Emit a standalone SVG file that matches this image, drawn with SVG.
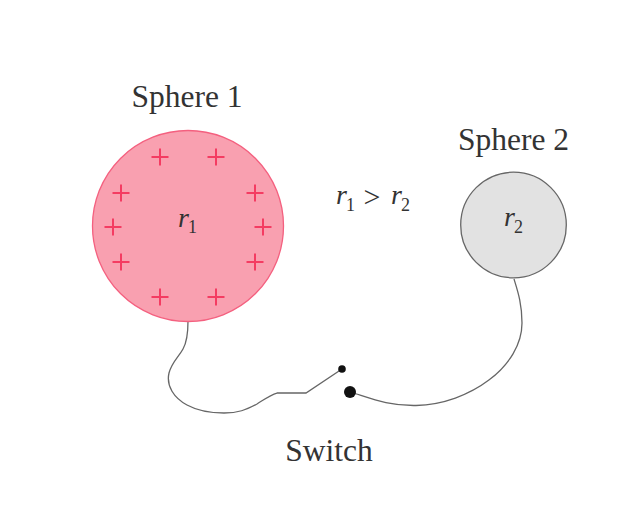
<svg xmlns="http://www.w3.org/2000/svg" width="638" height="528" viewBox="0 0 638 528">
<style>
text{font-family:"Liberation Serif","Times New Roman",serif;fill:#333}
.l{font-size:31.500px}
.i{font-size:28px;font-style:italic}
.o{font-size:30px}
.s{font-size:18px}
.p{stroke:#f43c62;stroke-width:2;fill:none}
.w{fill:none;stroke:#666;stroke-width:1.300}
</style>
<defs><path id="plus" class="p" d="M-8.500 0H8.500M0-8.500V8.500"/></defs>
<rect width="638" height="528" fill="#fff"/>
<g id="connectors">
<path class="w" d="M188 321C188 332 187 342 183 349C178 358 172 362 169 373C166 386 174 398 187 405C198 411 210 413 224 413C238 413 246 410 257 404C265 399 270 395 277 393H306L342 369"/>
<path class="w" d="M350 392C370 398 388 406 416 405.500C470 404 522 366 522 323C522 304 518 292 514 279"/>
<circle cx="342" cy="369" r="3.800" fill="#111"/>
<circle cx="350" cy="392" r="6" fill="#111"/>
</g>
<g id="sphere1">
<circle cx="188" cy="226" r="95.500" fill="#f9a0b0" stroke="#f4607f" stroke-width="1.300"/>
<use href="#plus" x="160" y="157"/><use href="#plus" x="216" y="157"/>
<use href="#plus" x="121" y="193"/><use href="#plus" x="255" y="193"/>
<use href="#plus" x="113" y="227"/><use href="#plus" x="263" y="227"/>
<use href="#plus" x="121" y="262"/><use href="#plus" x="255" y="262"/>
<use href="#plus" x="160" y="297"/><use href="#plus" x="216" y="297"/>
<text class="i" x="178" y="227">r</text><text class="s" x="188" y="233">1</text>
<text class="l" x="187" y="107" text-anchor="middle">Sphere 1</text>
</g>
<g id="sphere2">
<circle cx="513.500" cy="225" r="52.800" fill="#e2e2e2" stroke="#666" stroke-width="1.300"/>
<text class="i" x="504" y="226">r</text><text class="s" x="514" y="233">2</text>
<text class="l" x="513.500" y="150" text-anchor="middle">Sphere 2</text>
</g>
<g id="relation">
<text class="i" x="336" y="204">r</text><text class="s" x="346" y="211">1</text>
<text class="o" x="372" y="207" text-anchor="middle">&gt;</text>
<text class="i" x="391" y="204">r</text><text class="s" x="401" y="211">2</text>
</g>
<g id="switch">
<text class="l" x="329" y="461" text-anchor="middle">Switch</text>
</g>
</svg>
